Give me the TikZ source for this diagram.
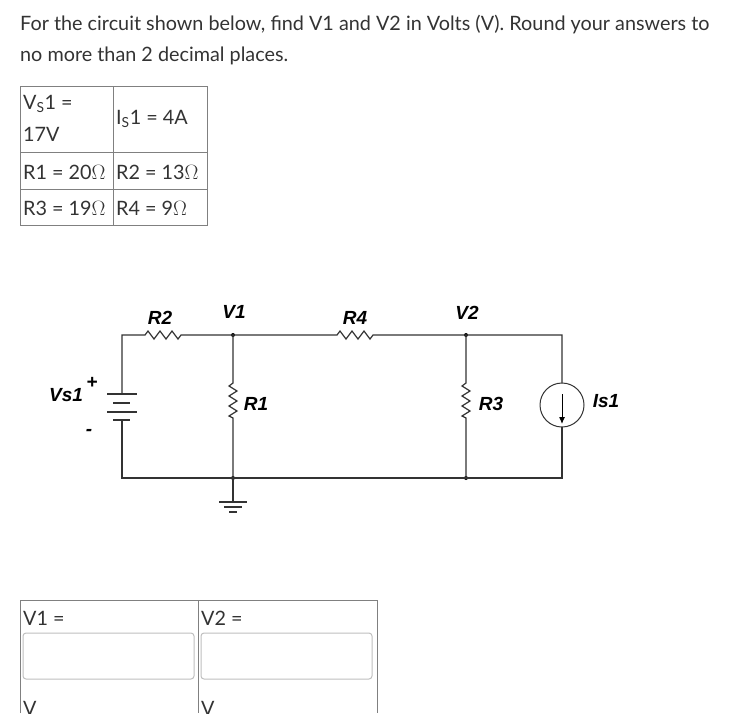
\documentclass[tikz,border=0pt]{standalone}
\usepackage{fontspec}
\usetikzlibrary{arrows.meta}
\setmainfont{Lato}
\newfontfamily\cfont{Liberation Sans}
\newcommand{\Om}{{\fontsize{21}{21}\selectfont$\Omega$}}
\begin{document}
\begin{tikzpicture}[x=1pt,y=-1pt,
  txt/.style={font=\fontsize{19.8}{22}\selectfont,text=black!80,inner sep=0,anchor=west},
  lab/.style={font=\cfont\fontsize{19}{21}\selectfont\bfseries\itshape,inner sep=0},
  wire/.style={draw=black!80,line width=1.2pt},
  tb/.style={draw=gray,line width=1pt},
  dot/.style={circle,fill=black,inner sep=0,minimum size=4pt}]
\useasboundingbox (0,0) rectangle (750,713);
\node[txt] (t1) at (20,25) {For the circuit shown below, find V1 and V2 in Volts (V). Round your answers to};
\node[txt] (t2) at (20,56) {no more than 2 decimal places.};
% table
\draw[tb] (20,86) rectangle (207,225);
\draw[tb] (20,152) -- (207,152) (20,189) -- (207,189) (113,86) -- (113,225);
\node[txt] (a) at (23,104) {V\textsubscript{S}1 =};
\node[txt] (b) at (23,134) {17V};
\node[txt] (c) at (116,119) {I\textsubscript{S}1 = 4A};
\node[txt] (d) at (23,172) {R1 = 20\Om};
\node[txt] (e) at (116,172) {R2 = 13\Om};
\node[txt] (f) at (23,208) {R3 = 19\Om};
\node[txt] (g) at (116,208) {R4 = 9\Om};
% circuit
\coordinate (tl) at (122,335);
\coordinate (n1) at (233,335);
\coordinate (n2) at (466,335);
\coordinate (tr) at (562,335);
\coordinate (bl) at (122,478);
\coordinate (g1) at (233,478);
\coordinate (g2) at (466,478);
\coordinate (br) at (562,478);
\node[dot] at (n1) {}; \node[dot] at (n2) {}; \node[dot] at (g1) {}; \node[dot] at (g2) {};
\draw[wire] (122,394) -- (tl) -- (145,335)
  -- (148,331) -- (154,339) -- (160,331) -- (166,339) -- (172,331) -- (178,339) -- (181,335)
  -- (n1) -- (337,335)
  -- (340,331) -- (346,339) -- (352,331) -- (358,339) -- (364,331) -- (370,339) -- (373,335)
  -- (n2) -- (tr) -- (562,383);
\draw[wire] (n1) -- (233,383) -- (229,386) -- (237,391) -- (229,396) -- (237,401) -- (229,406) -- (237,411) -- (229,416) -- (233,418) -- (g1);
\draw[wire] (n2) -- (466,383) -- (462,386) -- (470,391) -- (462,396) -- (470,401) -- (462,406) -- (470,411) -- (462,416) -- (466,418) -- (g2);
\draw[wire] (122,420) -- (bl) -- (br) -- (562,427);
\draw[wire] (107,394) -- (137,394) (113,403) -- (130,403) (107,412) -- (137,412) (113,420) -- (130,420);
\draw[wire] (g1) -- (233,502);
\draw[wire] (219,502) -- (247,502) (224,507) -- (242,507) (229,512) -- (237,512);
\node[draw=black!80,line width=1pt,circle,minimum size=44pt,inner sep=0] (is) at (562,405) {};
\draw[line width=1pt,-{Latex[length=7pt,width=6pt]}] (562,394) -- (562,424);
\node[lab] (lR2) at (160,318) {R2};
\node[lab] (lV1) at (234,312) {V1};
\node[lab] (lR4) at (355,318) {R4};
\node[lab] (lV2) at (467,313) {V2};
\node[lab] (lVs) at (66,395) {Vs1};
\node[lab] (lp) at (92,383) {+};
\node[lab] (lm) at (89,432) {-};
\node[lab] (lR1) at (256,404) {R1};
\node[lab] (lR3) at (491,404) {R3};
\node[lab] (lIs) at (606,401) {Is1};
% answers
\draw[tb] (20,713) -- (20,600) -- (377,600) -- (377,713) (198,600) -- (198,713);
\node[txt] (v1) at (23,618) {V1 =};
\node[txt] (v2) at (201,618) {V2 =};
\draw[draw=black!25,line width=1pt,rounded corners=3pt] (23,633) rectangle (194,679);
\draw[draw=black!25,line width=1pt,rounded corners=3pt] (201,633) rectangle (372,679);
\node[txt] (u1) at (23,708) {V};
\node[txt] (u2) at (201,708) {V};
\end{tikzpicture}
\end{document}
